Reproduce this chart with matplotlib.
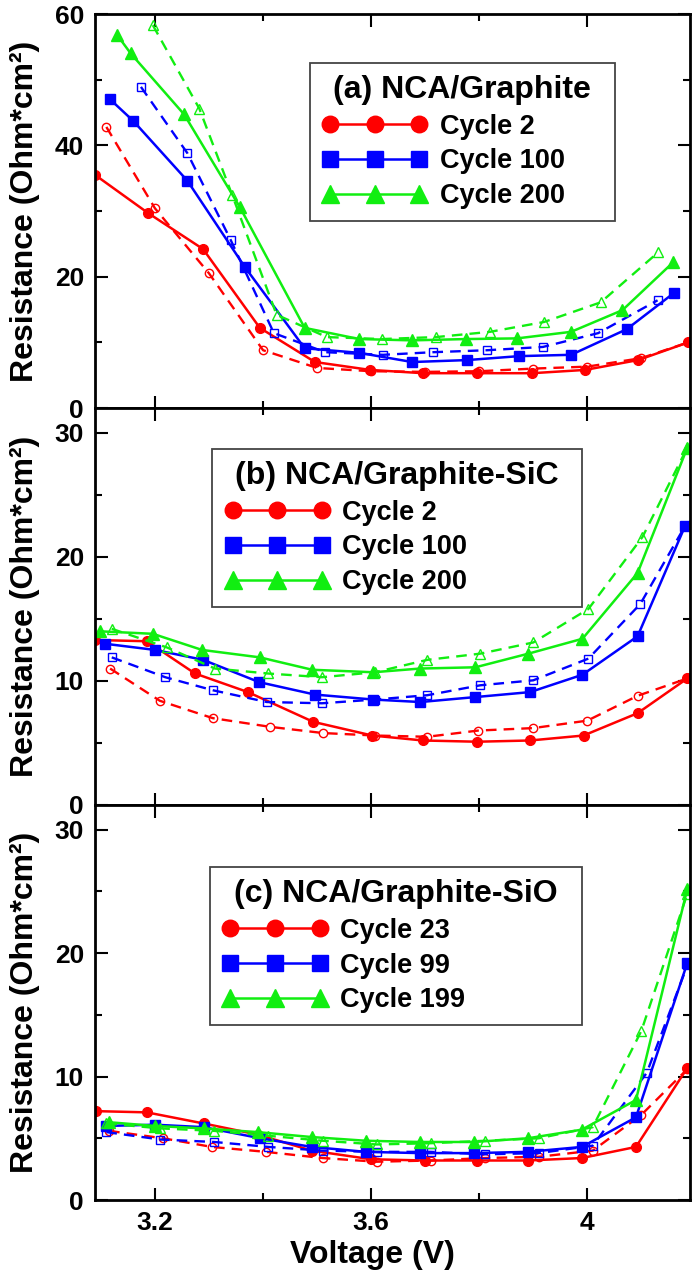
import matplotlib
matplotlib.use("Agg")
import matplotlib.pyplot as plt
from matplotlib.ticker import MultipleLocator

plt.rcParams['font.family'] = ['Liberation Sans', 'DejaVu Sans']
plt.rcParams['font.weight'] = 'bold'

# ---------------- data: panel (a) NCA/Graphite ----------------
A_C2_X = [3.089, 3.187, 3.289, 3.394, 3.496, 3.598, 3.696, 3.796, 3.898, 3.996, 4.094, 4.187]
A_C2_Y = [35.5, 29.7, 24.2, 12.2, 7.0, 5.8, 5.3, 5.3, 5.3, 5.8, 7.3, 10.0]
A_C2D_X = [3.11, 3.20, 3.30, 3.40, 3.50, 3.60, 3.70, 3.80, 3.90, 4.00, 4.10, 4.187]
A_C2D_Y = [42.8, 30.4, 20.5, 8.8, 6.1, 5.6, 5.5, 5.6, 6.0, 6.3, 7.6, 10.0]
A_C100_X = [3.117, 3.16, 3.26, 3.366, 3.477, 3.578, 3.676, 3.778, 3.874, 3.97, 4.073, 4.16]
A_C100_Y = [47.0, 43.7, 34.6, 21.5, 9.1, 8.4, 7.0, 7.3, 7.9, 8.1, 12.0, 17.5]
A_C100D_X = [3.174, 3.26, 3.34, 3.42, 3.515, 3.622, 3.715, 3.815, 3.918, 4.02, 4.13]
A_C100D_Y = [48.9, 38.8, 25.6, 11.4, 8.5, 8.1, 8.5, 8.8, 9.3, 11.4, 16.4]
A_C200_X = [3.13, 3.155, 3.254, 3.357, 3.477, 3.578, 3.676, 3.776, 3.87, 3.97, 4.065, 4.159]
A_C200_Y = [56.8, 54.0, 44.7, 30.6, 12.2, 10.5, 10.3, 10.5, 10.6, 11.6, 14.9, 22.2]
A_C200D_X = [3.196, 3.282, 3.343, 3.425, 3.518, 3.62, 3.72, 3.82, 3.92, 4.025, 4.131]
A_C200D_Y = [58.3, 45.6, 32.4, 14.2, 10.8, 10.5, 10.8, 11.6, 13.1, 16.1, 23.7]

# ---------------- data: panel (b) NCA/Graphite-SiC ----------------
B_C2_X = [3.089, 3.185, 3.274, 3.372, 3.493, 3.602, 3.696, 3.796, 3.894, 3.993, 4.093, 4.185]
B_C2_Y = [13.3, 13.2, 10.6, 9.1, 6.7, 5.6, 5.2, 5.1, 5.2, 5.6, 7.4, 10.2]
B_C2D_X = [3.117, 3.209, 3.307, 3.413, 3.511, 3.607, 3.704, 3.798, 3.9, 4.0, 4.093, 4.185]
B_C2D_Y = [11.0, 8.4, 7.0, 6.3, 5.8, 5.6, 5.5, 6.0, 6.2, 6.8, 8.8, 10.2]
B_C100_X = [3.107, 3.2, 3.289, 3.393, 3.496, 3.604, 3.691, 3.793, 3.894, 3.991, 4.093, 4.181]
B_C100_Y = [13.0, 12.5, 11.7, 9.9, 8.9, 8.5, 8.3, 8.7, 9.1, 10.5, 13.6, 22.5]
B_C100D_X = [3.12, 3.219, 3.307, 3.407, 3.509, 3.607, 3.704, 3.802, 3.9, 4.002, 4.098, 4.181]
B_C100D_Y = [11.9, 10.3, 9.25, 8.3, 8.2, 8.5, 8.85, 9.65, 10.05, 11.8, 16.2, 22.5]
B_C200_X = [3.098, 3.196, 3.287, 3.394, 3.491, 3.604, 3.691, 3.793, 3.891, 3.991, 4.093, 4.185]
B_C200_Y = [14.0, 13.8, 12.5, 11.9, 10.9, 10.7, 11.0, 11.1, 12.2, 13.4, 18.7, 28.8]
B_C200D_X = [3.12, 3.222, 3.311, 3.409, 3.509, 3.607, 3.704, 3.802, 3.9, 4.002, 4.102, 4.185]
B_C200D_Y = [14.2, 12.7, 11.0, 10.6, 10.3, 10.7, 11.7, 12.2, 13.1, 15.8, 21.6, 28.8]

# ---------------- data: panel (c) NCA/Graphite-SiO ----------------
C_C23_X = [3.09, 3.185, 3.29, 3.39, 3.49, 3.6, 3.7, 3.795, 3.89, 3.99, 4.09, 4.185]
C_C23_Y = [7.2, 7.1, 6.2, 5.3, 4.0, 3.3, 3.2, 3.2, 3.2, 3.4, 4.3, 10.7]
C_C23D_X = [3.115, 3.215, 3.305, 3.405, 3.51, 3.61, 3.71, 3.81, 3.91, 4.01, 4.1, 4.185]
C_C23D_Y = [5.6, 5.0, 4.3, 3.9, 3.4, 3.1, 3.2, 3.4, 3.5, 4.0, 6.9, 10.6]
C_C99_X = [3.11, 3.2, 3.29, 3.395, 3.49, 3.59, 3.69, 3.79, 3.89, 3.99, 4.09, 4.185]
C_C99_Y = [6.0, 6.1, 5.9, 5.0, 4.3, 3.9, 3.8, 3.8, 3.9, 4.3, 6.7, 19.2]
C_C99D_X = [3.11, 3.21, 3.31, 3.41, 3.51, 3.61, 3.71, 3.81, 3.91, 4.01, 4.11, 4.185]
C_C99D_Y = [5.5, 4.9, 4.7, 4.3, 4.0, 3.9, 3.9, 3.7, 3.8, 4.4, 10.3, 19.0]
C_C199_X = [3.115, 3.2, 3.29, 3.39, 3.49, 3.59, 3.69, 3.79, 3.89, 3.99, 4.09, 4.185]
C_C199_Y = [6.3, 6.0, 5.8, 5.5, 5.1, 4.8, 4.7, 4.7, 5.0, 5.7, 8.1, 25.2]
C_C199D_X = [3.11, 3.21, 3.31, 3.41, 3.51, 3.61, 3.71, 3.81, 3.91, 4.01, 4.1, 4.185]
C_C199D_Y = [6.2, 5.8, 5.6, 5.2, 4.8, 4.5, 4.6, 4.8, 5.0, 5.9, 13.7, 24.8]

TITLES = ["(a) NCA/Graphite", "(b) NCA/Graphite-SiC", "(c) NCA/Graphite-SiO"]
LABELS = [["Cycle 2", "Cycle 100", "Cycle 200"],
          ["Cycle 2", "Cycle 100", "Cycle 200"],
          ["Cycle 23", "Cycle 99", "Cycle 199"]]
YLIMS = [60, 32, 32]
YMAJOR = [20, 10, 10]
XTICKS = [3.2, 3.6, 4.0]
XTICKLABELS = ["3.2", "3.6", "4"]

PANELS = [
    [(A_C2_X, A_C2_Y, A_C2D_X, A_C2D_Y),
     (A_C100_X, A_C100_Y, A_C100D_X, A_C100D_Y),
     (A_C200_X, A_C200_Y, A_C200D_X, A_C200D_Y)],
    [(B_C2_X, B_C2_Y, B_C2D_X, B_C2D_Y),
     (B_C100_X, B_C100_Y, B_C100D_X, B_C100D_Y),
     (B_C200_X, B_C200_Y, B_C200D_X, B_C200D_Y)],
    [(C_C23_X, C_C23_Y, C_C23D_X, C_C23D_Y),
     (C_C99_X, C_C99_Y, C_C99D_X, C_C99D_Y),
     (C_C199_X, C_C199_Y, C_C199D_X, C_C199D_Y)],
]

COLORS = ['#ff0000', '#0000ff', '#11ee11']
MARKERS = ['o', 's', '^']
MSIZE = [7, 7, 8]
DMSIZE = [6, 5.5, 6.5]

W, H = 698, 1280
fig = plt.figure(figsize=(W / 100, H / 100), dpi=100)
left = 95 / W
width = (690 - 95) / W
tops = [14, 408, 805]
bots = [408, 805, 1200]
# legend box: (left x, top y, width) in axes fraction
leg_box = [(0.361, 0.876, 0.513), (0.197, 0.897, 0.622), (0.193, 0.843, 0.625)]

for i in range(3):
    ax = fig.add_axes([left, 1 - bots[i] / H, width, (bots[i] - tops[i]) / H])
    handles = []
    for j, (sx, sy, dx, dy) in enumerate(PANELS[i]):
        ax.plot(dx, dy, linestyle=(0, (4.5, 3)), lw=1.7, color=COLORS[j],
                marker=MARKERS[j], ms=DMSIZE[j], mfc='none', mec=COLORS[j], mew=1.0)
        h, = ax.plot(sx, sy, '-', lw=1.8, color=COLORS[j], marker=MARKERS[j],
                     ms=MSIZE[j], mfc=COLORS[j], mec=COLORS[j])
        handles.append(h)
    ax.set_xlim(3.089, 4.19)
    ax.set_ylim(0, YLIMS[i])
    ax.set_xticks(XTICKS)
    ax.xaxis.set_minor_locator(MultipleLocator(0.2))
    ax.yaxis.set_major_locator(MultipleLocator(YMAJOR[i]))
    ax.yaxis.set_minor_locator(MultipleLocator(YMAJOR[i] / 2))
    if i == 2:
        ax.set_xticklabels(XTICKLABELS)
        ax.set_xlabel("Voltage (V)", fontsize=23, fontweight='bold')
        ax.xaxis.set_label_coords(0.466, -0.1)
    else:
        ax.set_xticklabels([])
    ax.tick_params(which='both', direction='in', top=True, right=True, width=1.5)
    ax.tick_params(which='major', length=9, labelsize=19, pad=8)
    ax.tick_params(which='minor', length=5)
    for lab in ax.get_xticklabels() + ax.get_yticklabels():
        lab.set_fontweight('bold')
    for s in ax.spines.values():
        s.set_linewidth(2)
    ax.set_ylabel("Resistance (Ohm*cm²)", fontsize=23, fontweight='bold')
    ax.yaxis.set_label_coords(-0.093, 0.5)
    lx, ly, lw_ = leg_box[i]
    leg = ax.legend(handles, LABELS[i], loc='upper left', bbox_to_anchor=(lx, ly, lw_, 0),
                    mode='expand', borderaxespad=0, numpoints=3, handlelength=3.9,
                    markerscale=1.7, title=TITLES[i], fancybox=False, framealpha=1,
                    edgecolor='#444444', prop={'size': 19.5, 'weight': 'bold'},
                    labelspacing=0.32, handletextpad=0.45, borderpad=0.45)
    leg.get_title().set_fontsize(23)
    leg.get_title().set_fontweight('bold')
    leg.get_frame().set_linewidth(1.3)

fig.savefig("out.png", dpi=100)
